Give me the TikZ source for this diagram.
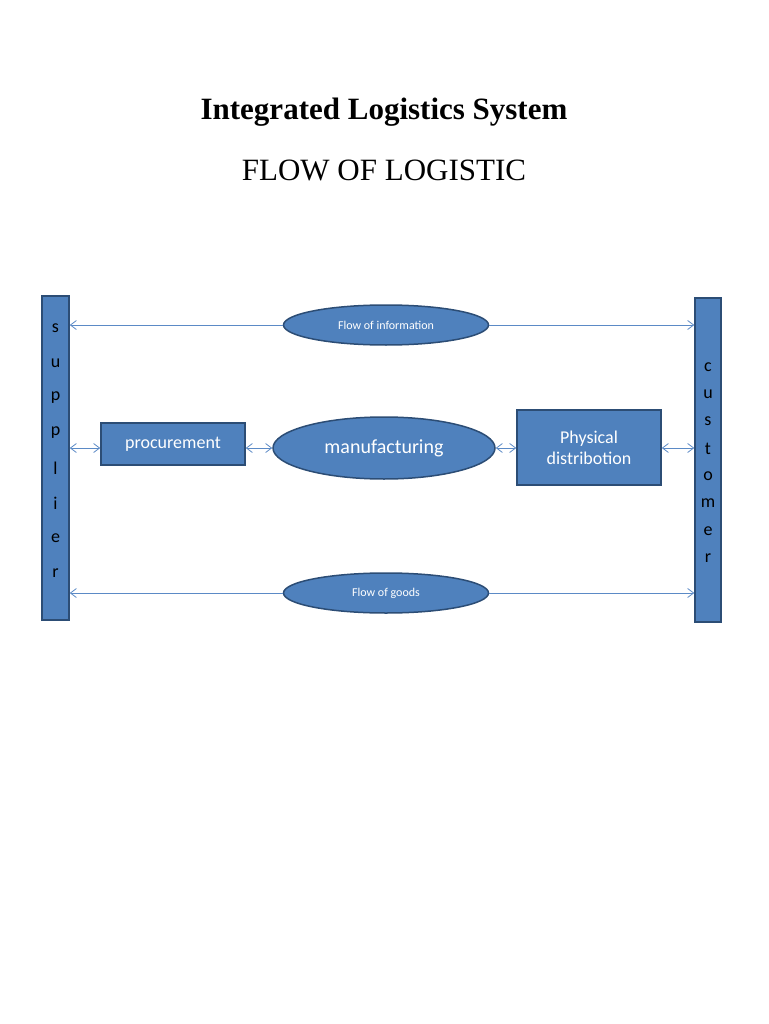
\documentclass[tikz,border=0pt]{standalone}
\usepackage{fontspec}
\setmainfont{Liberation Serif}
\newfontfamily\calfont{Carlito}
\usetikzlibrary{shapes.geometric,arrows.meta}
\definecolor{fillb}{HTML}{4F81BD}
\definecolor{edgeb}{HTML}{2C4D75}
\definecolor{lineb}{HTML}{5B8AC6}
\begin{document}
\begin{tikzpicture}[x=1pt,y=-1pt,
  box/.style={draw=edgeb,line width=1.5pt,fill=fillb,text=white,font=\calfont\fontsize{18}{21}\selectfont,align=center,inner sep=0},
  ell/.style={ellipse,draw=edgeb,line width=1.5pt,fill=fillb,text=white,inner sep=0},
  bar/.style={draw=edgeb,line width=1.5pt,fill=fillb,inner sep=0},
  conn/.style={draw=lineb,line width=0.8pt},
  one/.style={conn,-{Straight Barb[length=6pt,width=9pt]}},
  two/.style={conn,{Straight Barb[length=6pt,width=9pt]}-{Straight Barb[length=6pt,width=9pt]}}]
\useasboundingbox (0,0) rectangle (768,1024);
\node[font=\bfseries\fontsize{31}{36}\selectfont] (t1) at (384,112) {Integrated Logistics System};
\node[font=\fontsize{31}{36}\selectfont] (t2) at (384,170) {FLOW OF LOGISTIC};
\node[bar,minimum width=27pt,minimum height=324pt] (sup) at (55.5,458) {};
\node[bar,minimum width=26pt,minimum height=324pt] (cus) at (708,460) {};
\foreach \l [count=\i] in {s,u,p,p,l,i,e,r}
  \node[font=\calfont\fontsize{18}{21}\selectfont] at (55.5,328+35*\i-35) {\l};
\foreach \l [count=\i] in {c,u,s,t,o,m,e,r}
  \node[font=\calfont\fontsize{18}{21}\selectfont] at (708,367+27.3*\i-27.3) {\l};
\node[ell,minimum width=205pt,minimum height=40pt,font=\calfont\fontsize{12}{14}\selectfont] (info) at (386,325) {Flow of information};
\node[ell,minimum width=205pt,minimum height=40pt,font=\calfont\fontsize{12}{14}\selectfont] (goods) at (386,593) {Flow of goods};
\node[box,minimum width=144pt,minimum height=42pt] (proc) at (173,444) {procurement};
\node[ell,minimum width=222pt,minimum height=62pt,font=\calfont\fontsize{20}{24}\selectfont] (man) at (384,448) {manufacturing};
\node[box,minimum width=144pt,minimum height=75pt] (phys) at (589,447.5) {Physical\\distribotion};
\draw[one] (info.west) -- (info.west -| sup.east);
\draw[one] (info.east) -- (info.east -| cus.west);
\draw[one] (goods.west) -- (goods.west -| sup.east);
\draw[one] (goods.east) -- (goods.east -| cus.west);
\draw[two] (sup.east |- 0,448) -- (proc.west |- 0,448);
\draw[two] (proc.east |- 0,448) -- (man.west);
\draw[two] (man.east) -- (phys.west |- man.east);
\draw[two] (phys.east |- 0,448) -- (cus.west |- 0,448);
\end{tikzpicture}
\end{document}
